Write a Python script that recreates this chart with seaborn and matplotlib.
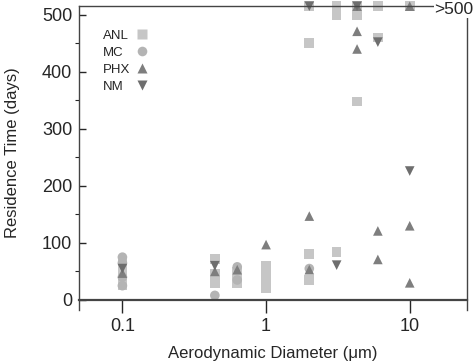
import pandas as pd
import matplotlib
matplotlib.use("Agg")
import matplotlib.pyplot as plt
import seaborn as sns

sns.set_style("ticks")
plt.rcParams['font.family'] = ['Liberation Sans', 'DejaVu Sans']

# Residence time vs aerodynamic diameter, by site (515 = ">500")
anl_d = [0.1, 0.1, 0.1, 0.1, 0.1, 0.44, 0.44, 0.44, 0.63, 0.63, 0.63,
         1, 1, 1, 1, 1, 2, 2, 2, 2, 3.1, 3.1, 3.1, 4.3, 4.3, 4.3, 6, 6, 10]
anl_t = [25, 35, 45, 55, 65, 72, 45, 30, 50, 40, 30,
         60, 50, 40, 30, 20, 515, 450, 80, 35, 515, 500, 84, 515, 500, 348, 515, 460, 515]

mc_d = [0.1, 0.1, 0.1, 0.1, 0.44, 0.63, 0.63, 2]
mc_t = [75, 65, 40, 25, 8, 58, 35, 55]

phx_d = [0.1, 0.44, 0.63, 1, 2, 2, 4.3, 4.3, 6, 6, 10, 10, 4.3, 10]
phx_t = [47, 50, 53, 97, 147, 53, 471, 440, 121, 71, 130, 30, 515, 515]

nm_d = [0.1, 0.44, 3.1, 10, 6, 2, 4.3]
nm_t = [55, 60, 61, 226, 452, 515, 515]

sites = ["ANL", "MC", "PHX", "NM"]

df = pd.concat([
    pd.DataFrame({"d": anl_d, "t": anl_t, "site": "ANL"}),
    pd.DataFrame({"d": mc_d, "t": mc_t, "site": "MC"}),
    pd.DataFrame({"d": phx_d, "t": phx_t, "site": "PHX"}),
    pd.DataFrame({"d": nm_d, "t": nm_t, "site": "NM"}),
], ignore_index=True)

palette = {"ANL": "#c6c6c6", "MC": "#b4b4b4", "PHX": "#7e7e7e", "NM": "#6e6e6e"}
markers = {"ANL": "s", "MC": "o", "PHX": "^", "NM": "v"}

fig = plt.figure(figsize=(4.74, 3.64), dpi=100)
ax = fig.add_axes([0.167, 0.176, 0.818, 0.807])

sns.scatterplot(data=df, x="d", y="t", hue="site", style="site",
                hue_order=sites, style_order=sites, palette=palette,
                markers=markers, s=48, edgecolor="none", clip_on=False, ax=ax)

ax.set_xscale("log")
ax.set_xlim(0.05, 25)
ax.set_ylim(0, 515)
ax.set_xticks([0.1, 1, 10])
ax.set_xticklabels(["0.1", "1", "10"])
ax.xaxis.set_minor_locator(matplotlib.ticker.NullLocator())
ax.set_yticks([0, 100, 200, 300, 400, 500])
ax.set_yticks([50, 150, 250, 350, 450], minor=True)
ax.tick_params(axis="x", direction="out", length=9, width=1, labelsize=13, pad=4)
ax.tick_params(axis="y", which="major", direction="in", length=5, width=1, labelsize=13, pad=5)
ax.tick_params(axis="y", which="minor", direction="out", length=3, width=0.8)

for sp in ax.spines.values():
    sp.set_color("#444444")
    sp.set_linewidth(1)
ax.spines["bottom"].set_linewidth(1.6)
ax.spines["left"].set_bounds(-17, 515)
ax.spines["right"].set_bounds(-17, 515)

ax.set_xlabel("Aerodynamic Diameter (\u03bcm)", fontsize=12, labelpad=8)
ax.set_ylabel("Residence Time (days)", fontsize=12, labelpad=16)

fig.text(0.999, 0.995, ">500", ha="right", va="top", fontsize=12.5, zorder=5,
         bbox=dict(facecolor="white", edgecolor="none", pad=0.5))

leg = ax.legend(loc="upper left", bbox_to_anchor=(0.03, 0.96), frameon=False,
                markerfirst=False, fontsize=9.5, handletextpad=0.1,
                handlelength=1.6, labelspacing=0.35, title=None)

# left-align the legend labels while keeping the markers in one column
fig.canvas.draw()
renderer = fig.canvas.get_renderer()
col = leg._legend_handle_box.get_children()[0]
rows = col.get_children()
widths = [row.get_children()[0]._text.get_window_extent(renderer).width for row in rows]
for row, w in zip(rows, widths):
    row.sep += (max(widths) - w) * 72 / fig.dpi
col.align = "baseline"

fig.savefig("out.png", dpi=100)
